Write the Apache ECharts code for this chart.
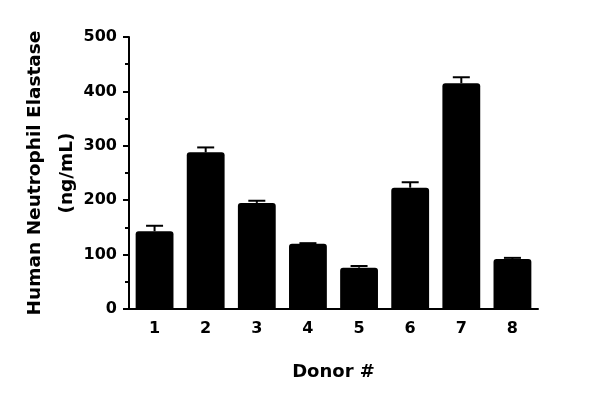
<!DOCTYPE html>
<html><head><meta charset="utf-8">
<script src="https://cdn.jsdelivr.net/npm/echarts@6/dist/echarts.min.js"></script>
<style>html,body{margin:0;padding:0;background:#fff}#c{width:600px;height:402px}</style>
</head><body><div id="c"></div>
<script>
const categories = ['1','2','3','4','5','6','7','8'];
const values = [143, 288, 195, 120, 76, 223, 415, 92];
const errors = [10, 9, 4, 1, 3, 10, 11, 2];
const yTicks = [0, 100, 200, 300, 400, 500];

const FONT = 'DejaVu Sans';
const chart = echarts.init(document.getElementById('c'), null, {renderer: 'canvas'});
chart.setOption({
  animation: false,
  backgroundColor: '#fff',
  grid: {left: 129, right: 62, top: 37, bottom: 93, containLabel: false},
  xAxis: {
    type: 'category',
    data: categories,
    name: 'Donor #',
    nameLocation: 'middle',
    nameGap: 54,
    nameMoveOverlap: false,
    nameTextStyle: {fontFamily: FONT, fontWeight: 'bold', fontSize: 18, color: '#000'},
    axisLine: {lineStyle: {color: '#000', width: 2}},
    axisTick: {alignWithLabel: true, length: 6, lineStyle: {color: '#000', width: 2}},
    axisLabel: {fontFamily: FONT, fontWeight: 'bold', fontSize: 16, color: '#000', margin: 12}
  },
  yAxis: {
    type: 'value',
    min: yTicks[0], max: yTicks[yTicks.length - 1], interval: 100,
    name: 'Human Neutrophil Elastase\n(ng/mL)',
    nameLocation: 'middle',
    nameGap: 46,
    nameMoveOverlap: false,
    nameRotate: 90,
    nameTextStyle: {fontFamily: FONT, fontWeight: 'bold', fontSize: 18.5, color: '#000', lineHeight: 32},
    axisLine: {show: true, lineStyle: {color: '#000', width: 2}},
    axisTick: {show: true, length: 6, lineStyle: {color: '#000', width: 2}},
    minorTick: {show: true, splitNumber: 2, length: 4, lineStyle: {color: '#000', width: 2}},
    splitLine: {show: false},
    axisLabel: {fontFamily: FONT, fontWeight: 'bold', fontSize: 16, color: '#000', margin: 12}
  },
  series: [
    {
      type: 'bar',
      data: values,
      barWidth: '74%',
      itemStyle: {color: '#000', borderRadius: [3, 3, 0, 0]},
      z: 2
    },
    {
      type: 'custom',
      data: values.map((v, i) => [i, v, v + errors[i]]),
      renderItem: function (params, api) {
        const x = api.coord([api.value(0), api.value(1)])[0];
        const y0 = api.coord([api.value(0), api.value(1)])[1];
        const y1 = api.coord([api.value(0), api.value(2)])[1];
        const hw = 8.5;
        return {
          type: 'group',
          children: [
            {type: 'line', shape: {x1: x, y1: y0, x2: x, y2: y1}, style: {stroke: '#000', lineWidth: 2}},
            {type: 'line', shape: {x1: x - hw, y1: y1, x2: x + hw, y2: y1}, style: {stroke: '#000', lineWidth: 2}}
          ]
        };
      },
      z: 3
    }
  ]
});
</script></body></html>
